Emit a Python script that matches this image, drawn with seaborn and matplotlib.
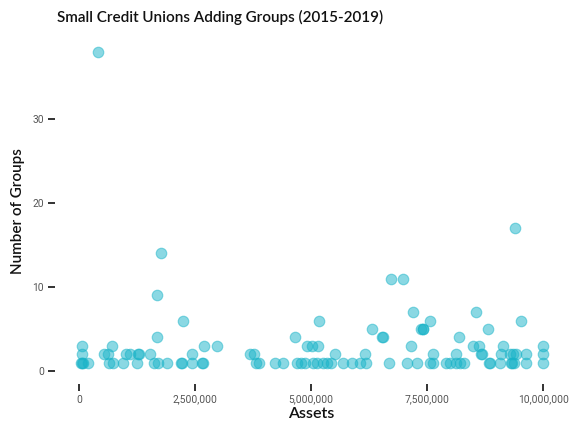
"""Small credit unions adding groups: assets vs number of groups (scatter)."""
import pandas as pd
import matplotlib
matplotlib.use("Agg")
import matplotlib.pyplot as plt
from matplotlib.ticker import FuncFormatter
import seaborn as sns

# assets (USD) of credit unions, bucketed by the number of groups they added
assets_g1 = [30000, 50000, 70000, 190000, 650000, 730000, 940000, 1250000, 1620000,
             1690000, 1900000, 2200000, 2220000, 2420000, 2640000, 2670000, 3810000,
             3880000, 4220000, 4400000, 4690000, 4790000, 4860000, 5040000, 5120000,
             5260000, 5330000, 5420000, 5690000, 5870000, 6050000, 6190000, 6680000,
             7060000, 7270000, 7560000, 7620000, 7900000, 7990000, 8130000, 8200000,
             8290000, 8830000, 8850000, 9070000, 9310000, 9330000, 9370000, 9630000,
             9990000]
assets_g2 = [50000, 540000, 610000, 1010000, 1090000, 1260000, 1290000, 1520000,
             2420000, 3690000, 3770000, 5510000, 6160000, 7620000, 8130000, 8660000,
             8680000, 9100000, 9280000, 9350000, 9410000, 9640000, 9990000]
assets_g3 = [50000, 700000, 2690000, 2970000, 4900000, 5010000, 5150000, 7160000,
             8480000, 8620000, 9140000, 9990000]
assets_g4 = [1670000, 4650000, 6530000, 6550000, 8190000]
assets_g5 = [6300000, 7360000, 7400000, 7420000, 8810000]
assets_g6 = [2240000, 5170000, 7570000, 9530000]
assets_g7 = [7200000, 8550000]
assets_g9 = [1680000]
assets_g11 = [6720000, 6980000]
assets_g14 = [1760000]
assets_g17 = [9390000]
assets_g38 = [400000]

group_counts = [1, 2, 3, 4, 5, 6, 7, 9, 11, 14, 17, 38]
asset_lists = [assets_g1, assets_g2, assets_g3, assets_g4, assets_g5, assets_g6,
               assets_g7, assets_g9, assets_g11, assets_g14, assets_g17, assets_g38]

x_ticks = [0, 2500000, 5000000, 7500000, 10000000]
y_ticks = [0, 10, 20, 30]

rows = []
for g, lst in zip(group_counts, asset_lists):
    for a in lst:
        rows.append({"Assets": a, "Number of Groups": g})
df = pd.DataFrame(rows)

sns.set_style("white")

fig = plt.figure(figsize=(5.77, 4.33), dpi=100)
ax = fig.add_axes([0.1052, 0.1238, 0.8683, 0.776])

sns.scatterplot(data=df, x="Assets", y="Number of Groups", ax=ax,
                color="#17b3c8", alpha=0.5, s=58, edgecolor="#17b3c8", linewidth=0.8)

ax.set_xlim(-400000, 10400000)
ax.set_ylim(-1.0, 39)
ax.set_xticks(x_ticks)
ax.set_yticks(y_ticks)
ax.xaxis.set_major_formatter(FuncFormatter(lambda v, p: f"{int(v):,}"))

for side in ["top", "right", "left", "bottom"]:
    ax.spines[side].set_visible(False)
ax.spines["left"].set_position(("outward", 4))
ax.spines["bottom"].set_position(("outward", 3))

ax.tick_params(axis="both", which="major", direction="out", length=5, width=1.3,
               color="#222222", labelcolor="#555555", labelsize=7.4, pad=3,
               left=True, bottom=True)
for lbl in ax.get_xticklabels() + ax.get_yticklabels():
    lbl.set_family("Roboto")

ax.set_xlabel("Assets", family="Lato", fontsize=11.5, fontweight="semibold",
              color="#111111", labelpad=2)
ax.set_ylabel("Number of Groups", family="Lato", fontsize=11, fontweight="semibold",
              color="#111111", labelpad=5)

fig.text(57 / 577, 1 - 17 / 433, "Small Credit Unions Adding Groups (2015-2019)",
         family="Lato", fontsize=11, fontweight="semibold", color="#111111",
         ha="left", va="center")

fig.savefig("out.png", dpi=100)
